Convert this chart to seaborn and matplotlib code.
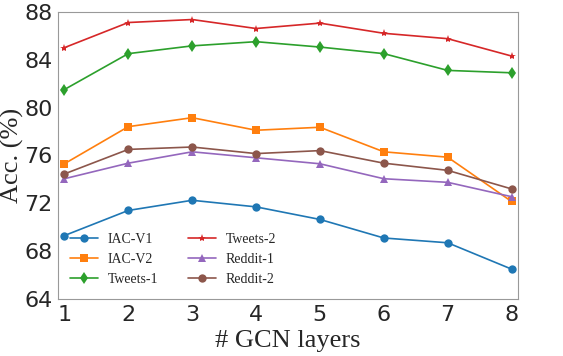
import numpy as np
import matplotlib.pyplot as plt
import seaborn as sns

layers = [1, 2, 3, 4, 5, 6, 7, 8]
iac_v1 = [69.3, 71.4, 72.25, 71.7, 70.65, 69.1, 68.7, 66.5]
iac_v2 = [75.3, 78.4, 79.15, 78.1, 78.35, 76.3, 75.85, 72.15]
tweets_1 = [81.5, 84.5, 85.15, 85.5, 85.05, 84.5, 83.1, 82.9]
tweets_2 = [85.0, 87.1, 87.35, 86.6, 87.05, 86.2, 85.75, 84.3]
reddit_1 = [74.05, 75.35, 76.3, 75.8, 75.3, 74.05, 73.75, 72.55]
reddit_2 = [74.45, 76.5, 76.7, 76.15, 76.4, 75.35, 74.75, 73.2]

series = ["IAC-V1", "IAC-V2", "Tweets-1", "Tweets-2", "Reddit-1", "Reddit-2"]
values = [iac_v1, iac_v2, tweets_1, tweets_2, reddit_1, reddit_2]
markers = ["o", "s", "d", "*", "^", "o"]

sns.set_style("white")
plt.rcParams['font.family'] = ['DejaVu Sans']

fig, ax = plt.subplots(figsize=(5.63, 3.56), dpi=100)
colors = sns.color_palette("tab10")
for i, (name, vals) in enumerate(zip(series, values)):
    sns.lineplot(x=layers, y=vals, ax=ax, label=name, color=colors[i],
                 marker=markers[i], markersize=6, markeredgewidth=0, linewidth=1.2)

ax.set_xlim(0.9, 8.1)
ax.set_ylim(64, 88)
ax.set_xticks(layers)
ax.set_yticks([64, 68, 72, 76, 80, 84, 88])
ax.tick_params(labelsize=16, length=3, pad=1, color="#999999")
for s in ax.spines.values():
    s.set_color("#999999")
ax.set_xlabel("# GCN layers", family="Liberation Serif", fontsize=19)
ax.set_ylabel("Acc. (%)", family="Liberation Serif", fontsize=19)
ax.xaxis.set_label_coords(0.5, -0.108)
ax.yaxis.set_label_coords(-0.073, 0.5)
ax.legend(loc="lower left", ncol=2, frameon=False, prop={"family": "Liberation Serif", "size": 10},
          bbox_to_anchor=(0.0, 0.003), columnspacing=2.15, handlelength=2.0,
          handletextpad=0.7, labelspacing=0.5)

plt.subplots_adjust(left=0.103, right=0.92, top=0.967, bottom=0.16)
plt.savefig("out.png", dpi=100)
